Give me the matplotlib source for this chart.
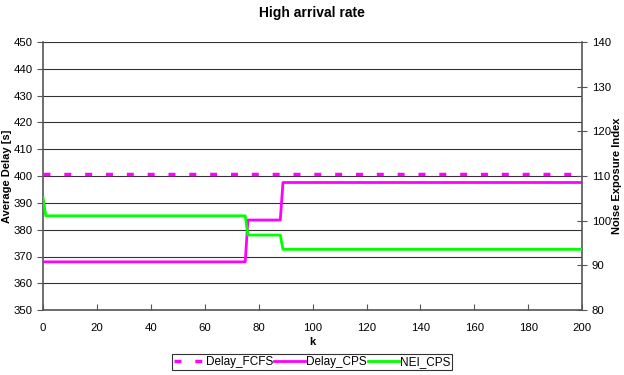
import matplotlib.pyplot as plt
import numpy as np

# Data
fcfs_k = [0, 200]
delay_fcfs = [400.7, 400.7]

cps_k = [0, 75, 76, 88, 89, 200]
delay_cps = [368.0, 368.0, 383.6, 383.6, 397.6, 397.6]

nei_k = [0, 1, 75, 76, 88, 89, 200]
nei_cps = [105.2, 101.1, 101.1, 96.8, 96.8, 93.6, 93.6]

plt.rcParams['font.family'] = ['Liberation Sans', 'DejaVu Sans']

fig = plt.figure(figsize=(6.24, 3.75), dpi=100)
ax = fig.add_axes([0.069, 0.173, 0.864, 0.715])
ax2 = ax.twinx()

magenta = '#ff00ff'
green = '#00ff00'

ax.set_ylim(350, 450)
ax.set_xlim(0, 200)
ax.set_yticks(np.arange(350, 451, 10))
ax.set_xticks(np.arange(0, 201, 20))
ax.grid(axis='y', color='#000000', linewidth=0.8, alpha=0.8)
ax.set_axisbelow(True)

ax2.set_ylim(80, 140)
ax2.set_yticks(np.arange(80, 141, 10))

l1, = ax.plot(fcfs_k, delay_fcfs, color=magenta, linewidth=2.5,
              linestyle=(0, (2, 4)), label='Delay_FCFS', zorder=3)
l2, = ax.plot(cps_k, delay_cps, color=magenta, linewidth=2, label='Delay_CPS', zorder=3)
l3, = ax2.plot(nei_k, nei_cps, color=green, linewidth=2, label='NEI_CPS', zorder=3)

for a in (ax, ax2):
    for s in a.spines.values():
        s.set_visible(False)
ax.spines['left'].set_visible(True)
ax.spines['bottom'].set_visible(True)
ax2.spines['right'].set_visible(True)
for s in (ax.spines['left'], ax.spines['bottom'], ax2.spines['right']):
    s.set_color('#555555')
    s.set_linewidth(1.2)

ax.tick_params(axis='y', direction='out', length=4, labelsize=8.2, color='#555555')
ax.tick_params(axis='x', direction='in', length=4, labelsize=8.2, color='#555555', pad=9)
ax2.tick_params(axis='y', direction='inout', length=7, labelsize=8.2, color='#555555')

ax.set_xlabel('k', fontsize=8, fontweight='bold', labelpad=3)
ax.set_ylabel('Average Delay [s]', fontsize=8, fontweight='bold')
ax.yaxis.set_label_coords(-0.057, 0.5)
ax2.set_ylabel('Noise Exposure Index', fontsize=8, fontweight='bold')
ax2.yaxis.set_label_coords(1.056, 0.5)
fig.suptitle('High arrival rate', fontsize=10, fontweight='bold', y=0.985)

leg = fig.legend(handles=[l1, l2, l3], loc='center', bbox_to_anchor=(0.5, 0.035),
                 ncol=3, fontsize=8.5, frameon=True, fancybox=False,
                 borderpad=0.2, handlelength=2.6, handletextpad=0.1, columnspacing=0.1)
leg.get_frame().set_edgecolor('#000000')
leg.get_frame().set_linewidth(0.8)

fig.savefig('out.png', dpi=100)
